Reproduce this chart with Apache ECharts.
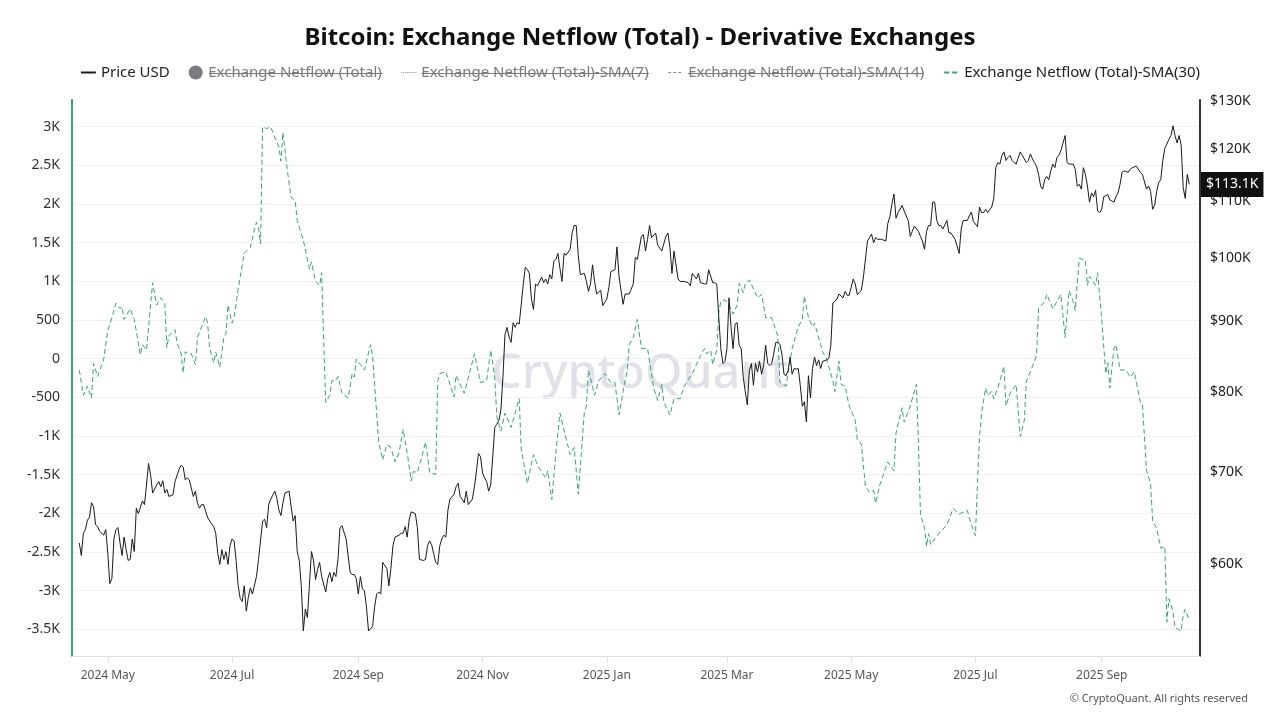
<!DOCTYPE html>
<html>
<head>
<meta charset="utf-8">
<script src="https://cdn.jsdelivr.net/npm/echarts@6/dist/echarts.min.js"></script>
<style>
html,body{margin:0;padding:0;background:#fff;}
#chart{width:1280px;height:720px;}
</style>
</head>
<body>
<div id="chart"></div>
<script>
// Day offsets are days since 2024-05-01 (UTC).
const START_DATE = '2024-05-01';
const monthTicks = ['2024-05-01','2024-07-01','2024-09-01','2024-11-01','2025-01-01','2025-03-01','2025-05-01','2025-07-01','2025-09-01'];
const flowTicks = [-3500,-3000,-2500,-2000,-1500,-1000,-500,0,500,1000,1500,2000,2500,3000];
const priceTicks = [60000,70000,80000,90000,100000,110000,120000,130000];
const seriesNames = ['Price USD','Exchange Netflow (Total)','Exchange Netflow (Total)-SMA(7)','Exchange Netflow (Total)-SMA(14)','Exchange Netflow (Total)-SMA(30)'];
const hiddenSeries = ['Exchange Netflow (Total)','Exchange Netflow (Total)-SMA(7)','Exchange Netflow (Total)-SMA(14)'];

// Price USD, [day offset, price in thousands USD]
const priceK = [
[-14,62.2],[-13,60.9],[-12,63.2],[-11,63.6],[-10,64.6],[-9,64.9],[-8,66.5],[-7,66.1],[-6,64.1],[-5,63.9],[-4,63.4],[-2,63.0],[-1,63.6],
[0,61.1],[1,58.1],[2,58.6],[3,62.6],[4,63.6],[5,63.8],[6,62.2],[7,60.9],[8,62.8],[9,61.5],[10,60.4],[11,60.5],[12,62.6],[13,61.3],
[14,65.9],[15,65.3],[17,66.7],[18,66.3],[19,68.5],[20,71.0],[21,69.7],[22,67.6],[24,68.5],[25,68.9],[26,68.3],[27,69.0],[28,67.6],
[29,68.0],[30,67.2],[32,67.4],[33,68.9],[35,70.3],[36,70.8],[37,70.6],[38,69.1],[39,69.3],[40,69.1],[42,67.2],[43,67.8],[44,66.5],
[45,65.9],[46,66.3],[47,66.3],[49,64.9],[50,64.5],[52,63.9],[53,63.2],[54,61.1],[55,60.0],[56,61.5],[57,60.5],[58,61.3],[59,60.0],
[60,61.9],[61,62.6],[62,62.4],[63,60.4],[64,57.9],[65,56.7],[66,56.4],[67,57.9],[68,55.5],[69,56.8],[70,57.7],[71,57.1],[73,58.8],
[74,60.5],[76,64.5],[77,64.7],[78,63.8],[79,66.3],[80,66.9],[82,67.8],[83,67.0],[84,65.7],[85,65.1],[86,66.5],[87,67.6],[89,67.8],
[90,66.1],[91,64.5],[92,65.1],[93,61.3],[94,60.4],[95,57.9],[96,53.7],[97,55.7],[98,54.9],[100,61.3],[101,60.4],[102,58.5],[103,59.5],
[104,60.2],[105,58.8],[107,57.3],[108,58.6],[109,59.2],[110,58.3],[111,59.2],[112,58.8],[113,60.5],[114,63.8],[115,64.0],[117,62.6],
[119,59.2],[120,59.0],[121,59.0],[122,58.6],[123,57.1],[124,58.8],[125,57.6],[126,57.4],[127,55.9],[128,53.7],[130,54.1],[131,55.9],
[132,57.1],[133,57.3],[134,57.1],[135,60.2],[137,59.6],[138,57.9],[139,59.6],[140,61.9],[141,62.8],[143,63.0],[144,63.2],[145,63.2],
[146,63.9],[147,62.8],[148,64.7],[149,65.5],[151,65.3],[152,63.8],[153,60.5],[155,60.4],[156,60.5],[157,61.9],[158,62.4],[159,62.0],
[160,61.1],[161,60.2],[162,60.0],[163,61.9],[164,62.6],[165,63.0],[166,62.8],[167,65.7],[168,66.9],[169,67.2],[170,67.4],[171,68.3],
[172,68.7],[173,67.2],[174,66.9],[175,66.5],[176,67.8],[177,66.3],[179,66.9],[180,68.3],[181,70.1],[182,72.2],[183,71.8],[184,69.9],
[185,69.3],[186,68.9],[187,67.8],[188,68.5],[189,71.8],[190,75.4],[191,75.8],[192,76.3],[193,77.6],[194,82.0],[195,88.0],[196,89.1],
[197,87.7],[198,86.9],[199,89.8],[200,89.1],[201,89.8],[202,89.6],[203,92.6],[204,95.8],[205,98.5],[206,98.1],[207,97.5],[208,93.4],
[209,91.8],[210,95.8],[211,95.5],[213,96.9],[214,96.0],[215,96.6],[216,95.8],[217,97.3],[218,96.6],[219,99.5],[220,99.8],[221,100.8],
[222,98.3],[223,96.2],[224,100.8],[225,100.5],[227,101.5],[228,104.3],[229,105.6],[230,105.6],[231,100.5],[232,97.3],[234,97.5],
[235,96.2],[236,94.6],[237,95.8],[238,98.9],[239,96.2],[240,94.2],[242,94.8],[243,92.4],[245,93.4],[246,95.2],[247,97.8],[249,98.1],
[250,101.9],[251,97.0],[253,92.6],[254,94.2],[256,94.2],[258,95.8],[259,100.1],[260,99.8],[262,103.7],[263,104.0],[264,101.2],
[265,103.2],[266,105.6],[267,103.5],[269,104.3],[270,102.2],[272,101.2],[274,103.7],[275,104.3],[276,101.8],[277,97.5],[278,101.2],
[280,96.6],[281,96.2],[283,96.2],[285,96.0],[286,95.5],[287,97.5],[289,96.6],[290,97.5],[291,96.0],[293,95.8],[294,95.8],[295,98.1],
[297,96.0],[298,96.0],[299,95.8],[300,90.5],[301,86.0],[302,83.9],[303,84.2],[304,86.0],[305,93.6],[306,89.1],[307,86.0],[308,89.6],
[309,89.8],[310,86.5],[311,86.0],[312,82.0],[313,80.0],[314,78.3],[315,82.9],[316,83.9],[317,80.9],[318,83.9],[319,82.7],[320,84.2],
[321,82.4],[322,83.6],[323,86.5],[324,83.9],[325,83.6],[326,83.9],[328,86.9],[329,86.9],[330,86.6],[331,85.2],[332,82.4],[333,82.2],
[334,82.9],[335,84.8],[336,82.4],[337,83.2],[338,83.1],[339,83.2],[340,80.9],[341,78.1],[342,78.7],[343,76.1],[344,82.2],[345,79.2],
[346,83.2],[347,84.8],[348,83.6],[349,84.4],[350,83.2],[351,84.2],[353,84.4],[354,84.6],[355,86.5],[356,92.8],[358,93.4],[359,94.2],
[361,93.6],[362,94.6],[363,94.0],[364,94.0],[366,96.6],[367,95.8],[368,94.1],[370,94.8],[371,96.9],[373,102.9],[375,104.1],[376,102.6],
[377,103.5],[378,103.2],[380,103.2],[382,102.9],[383,106.0],[384,107.2],[385,109.5],[386,111.3],[387,106.9],[388,107.9],[390,109.2],
[391,108.2],[393,106.5],[394,103.7],[395,104.6],[396,105.5],[398,104.6],[399,103.7],[400,102.9],[401,101.5],[402,104.6],[403,105.6],
[404,105.6],[405,109.8],[406,109.8],[407,106.5],[408,105.6],[409,105.6],[410,105.0],[412,106.5],[413,104.3],[414,104.3],[416,103.2],
[418,100.8],[419,105.0],[420,106.5],[422,106.5],[423,107.3],[424,108.0],[425,106.3],[427,105.4],[428,108.9],[429,107.9],[430,107.9],
[431,108.5],[432,107.9],[434,108.9],[435,110.5],[436,116.3],[437,117.3],[438,117.0],[439,118.7],[440,119.4],[441,117.7],[442,118.3],
[443,118.7],[444,117.7],[445,117.3],[446,117.0],[448,119.4],[449,118.7],[450,118.0],[451,117.3],[452,117.7],[453,119.0],[454,118.0],
[455,117.3],[456,116.6],[457,115.0],[458,112.8],[459,112.2],[460,114.0],[461,114.6],[462,114.0],[463,115.7],[464,117.0],[465,116.3],
[466,118.3],[467,118.7],[468,119.7],[470,122.7],[471,117.3],[472,117.0],[474,117.0],[475,116.0],[476,112.8],[477,113.1],[478,112.2],
[479,116.3],[480,115.0],[481,112.8],[482,109.8],[483,111.5],[484,110.8],[485,112.0],[486,108.2],[487,107.9],[488,108.5],[489,110.8],
[491,111.2],[492,110.2],[494,109.8],[495,110.8],[496,111.5],[497,113.1],[498,115.4],[499,115.7],[501,115.4],[502,116.0],[503,116.3],
[505,116.6],[506,116.0],[507,115.4],[508,115.0],[510,112.2],[511,112.8],[512,111.8],[513,108.5],[514,109.2],[515,111.8],[516,113.5],
[517,114.0],[518,117.7],[519,120.1],[521,121.9],[522,122.7],[523,124.7],[524,122.7],[525,121.2],[526,122.7],[527,120.8],[528,112.5],
[529,110.5],[530,115.0],[531,113.1]
];

// Exchange Netflow (Total)-SMA(30), [day offset, BTC]
const netflowSMA30 = [
[-14,-146],[-12,-472],[-10,-355],[-8,-509],[-7,-62],[-5,-230],[-2,-6],[0,367],[2,530],[4,716],[6,646],[7,669],[8,507],[11,646],[13,507],
[16,50],[17,181],[19,111],[22,981],[24,693],[26,786],[28,716],[29,143],[30,297],[33,376],[34,204],[36,63],[37,-184],[38,87],[41,63],
[43,-76],[44,274],[48,544],[49,460],[50,133],[52,-53],[53,87],[55,-109],[57,274],[58,320],[59,693],[61,460],[62,530],[64,902],[67,1367],
[70,1437],[72,1671],[73,1764],[74,1694],[75,1485],[76,2998],[78,2975],[80,2998],[82,2859],[84,2741],[85,2555],[86,2928],[88,2462],
[90,2090],[92,2043],[93,1787],[96,1531],[99,1158],[100,1251],[102,995],[104,949],[105,1111],[106,227],[107,-565],[109,-472],[110,-286],
[112,-286],[113,-230],[115,-448],[118,-509],[120,-193],[121,-239],[122,-6],[126,-146],[129,181],[130,40],[132,-704],[133,-1078],
[134,-1194],[135,-1310],[137,-1114],[139,-1148],[141,-1334],[143,-1217],[145,-914],[147,-1217],[149,-1580],[150,-1459],[152,-1473],
[154,-1287],[156,-1078],[157,-1264],[158,-1473],[161,-1497],[162,-286],[163,-193],[166,-169],[170,-495],[171,-216],[175,-448],[178,-146],
[180,63],[183,-309],[186,-286],[188,111],[190,-239],[191,-751],[193,-937],[195,-704],[198,-890],[202,-518],[203,-1171],[206,-1613],
[209,-1241],[211,-1380],[215,-1543],[216,-1450],[218,-1822],[220,-1217],[222,-704],[225,-1030],[227,-1241],[229,-1148],[231,-1752],
[234,-681],[235,-611],[236,-146],[239,-472],[241,-286],[244,-193],[247,-309],[249,-309],[251,-728],[253,-425],[255,-146],[256,181],
[258,274],[260,507],[262,133],[265,133],[268,-379],[270,-541],[272,-332],[273,-565],[276,-728],[278,-518],[281,-518],[283,-355],
[287,-193],[291,40],[293,133],[294,63],[296,111],[297,-76],[299,111],[300,600],[301,739],[303,762],[305,693],[307,576],[309,693],
[310,972],[312,855],[313,972],[315,1018],[319,786],[321,832],[323,530],[326,530],[328,367],[329,297],[330,-309],[333,-355],[336,133],
[339,414],[341,507],[342,809],[344,530],[346,414],[347,460],[351,87],[353,-6],[356,-286],[357,-425],[359,-30],[360,-332],[362,-355],
[364,-611],[367,-797],[368,-1053],[370,-1100],[372,-1659],[374,-1729],[376,-1706],[377,-1869],[379,-1636],[382,-1403],[383,-1334],
[386,-1450],[387,-960],[390,-635],[391,-821],[394,-611],[397,-332],[398,-1078],[399,-2008],[401,-2194],[402,-2428],[403,-2264],
[404,-2404],[408,-2264],[412,-2148],[415,-1938],[418,-2008],[422,-1962],[424,-2148],[426,-2287],[427,-1600],[428,-1030],[429,-704],
[431,-379],[432,-472],[434,-425],[435,-518],[437,-379],[440,-100],[441,-611],[443,-448],[446,-332],[448,-1007],[450,-797],[451,-286],
[453,-169],[456,40],[457,646],[460,739],[461,832],[464,646],[466,739],[468,832],[470,274],[472,879],[474,739],[475,623],[476,972],
[477,1297],[480,1274],[481,949],[482,1065],[485,949],[486,1111],[488,507],[490,-193],[491,-53],[492,-379],[494,133],[495,181],
[497,-146],[500,-146],[502,-239],[504,-169],[507,-565],[508,-588],[510,-1450],[512,-1613],[513,-2101],[515,-2194],[517,-2451],
[519,-2428],[520,-3405],[521,-3103],[523,-3266],[524,-3475],[527,-3522],[528,-3312],[529,-3242],[531,-3382]
];

const DAY = 86400000;
const T0 = Date.parse(START_DATE + 'T00:00:00Z');
const toTime = d => T0 + d * DAY;
const MONTHS = ['Jan','Feb','Mar','Apr','May','Jun','Jul','Aug','Sep','Oct','Nov','Dec'];
const monthTickTimes = monthTicks.map(s => Date.parse(s + 'T00:00:00Z'));

const priceSeries = priceK.map(p => [toTime(p[0]), p[1] * 1000]);
const flowSeries = netflowSMA30.map(p => [toTime(p[0]), p[1]]);
const lastPrice = priceSeries[priceSeries.length - 1][1];

const GREEN = '#32a877';
const FONT = 'Noto Sans';
const INACTIVE = '#7a7a80';

// Legend layout (for strike-through on the hidden items)
const LEG_FS = 15, LEG_IW = 15, LEG_IH = 14, LEG_GAP = 19, LEG_TOP = 60, W = 1280;
const mctx = document.createElement('canvas').getContext('2d');
mctx.font = LEG_FS + 'px "' + FONT + '"';
const legW = seriesNames.map(n => mctx.measureText(n).width);
const legTotal = legW.reduce((a, w) => a + LEG_IW + 5 + w, 0) + LEG_GAP * (seriesNames.length - 1);
const strikeLines = [];
{
  let x = (W - legTotal) / 2;
  const yMid = LEG_TOP + 5 + LEG_IH / 2;
  seriesNames.forEach((n, i) => {
    const tx = x + LEG_IW + 5;
    if (hiddenSeries.indexOf(n) >= 0) {
      strikeLines.push({
        type: 'line', silent: true, z: 100,
        shape: {x1: tx, y1: Math.round(yMid) + 1.5, x2: tx + legW[i], y2: Math.round(yMid) + 1.5},
        style: {stroke: INACTIVE, lineWidth: 1}
      });
    }
    x = tx + legW[i] + LEG_GAP;
  });
}

const chart = echarts.init(document.getElementById('chart'), null, {renderer: 'canvas'});
const selected = {};
hiddenSeries.forEach(n => { selected[n] = false; });
chart.setOption({
  backgroundColor: '#ffffff',
  animation: false,
  textStyle: {fontFamily: FONT},
  title: {
    text: 'Bitcoin: Exchange Netflow (Total) - Derivative Exchanges',
    left: 'center', top: 21,
    textStyle: {fontFamily: FONT, fontSize: 24, fontWeight: 'bold', color: '#111'}
  },
  legend: {
    top: LEG_TOP, left: 'center', itemGap: LEG_GAP, itemWidth: LEG_IW, itemHeight: LEG_IH,
    inactiveColor: INACTIVE, inactiveBorderColor: INACTIVE,
    lineStyle: {inactiveColor: '#8a8a90', inactiveWidth: 1},
    textStyle: {fontFamily: FONT, fontSize: LEG_FS, color: '#222'},
    data: [
      {name: seriesNames[0], itemStyle: {opacity: 0}},
      {name: seriesNames[1], icon: 'circle'},
      {name: seriesNames[2], itemStyle: {opacity: 0}, lineStyle: {type: [1, 1], inactiveColor: '#8a8a90', inactiveWidth: 1}},
      {name: seriesNames[3], itemStyle: {opacity: 0}, lineStyle: {type: [3, 2], inactiveColor: '#8a8a90', inactiveWidth: 1}},
      {name: seriesNames[4], itemStyle: {opacity: 0}}
    ],
    selected: selected
  },
  grid: {left: 72, right: 80, top: 100, bottom: 64, containLabel: false},
  xAxis: {
    type: 'value',
    min: T0 - 17.58 * DAY,
    max: T0 + 536.26 * DAY,
    axisLine: {show: true, onZero: false, lineStyle: {color: '#dcdce4', width: 1}},
    axisTick: {show: true, customValues: monthTickTimes, length: 7, lineStyle: {color: '#e2e2e8'}},
    splitLine: {show: false},
    axisLabel: {
      customValues: monthTickTimes,
      margin: 14, fontSize: 12, color: '#555', fontFamily: FONT,
      formatter: v => { const d = new Date(v); return d.getUTCFullYear() + ' ' + MONTHS[d.getUTCMonth()]; }
    }
  },
  yAxis: [
    {
      type: 'value', position: 'left',
      min: -3845, max: 3345,
      axisLine: {show: true, lineStyle: {color: GREEN, width: 2}},
      axisTick: {show: false, customValues: flowTicks},
      splitLine: {show: true, lineStyle: {color: '#f2f2f4', width: 1}},
      axisLabel: {
        customValues: flowTicks,
        margin: 12, fontSize: 14, color: '#333', fontFamily: FONT,
        formatter: v => (v === 0 ? '0' : (Math.abs(v) >= 1000 ? (v / 1000) + 'K' : String(v)))
      }
    },
    {
      type: 'log', position: 'right', logBase: 10,
      min: 51500, max: 130200,
      axisLine: {show: true, lineStyle: {color: '#333', width: 2}},
      axisTick: {show: false, customValues: priceTicks},
      splitLine: {show: false},
      axisLabel: {
        customValues: priceTicks,
        margin: 10, fontSize: 14, color: '#222', fontFamily: FONT,
        formatter: v => '$' + Math.round(v / 1000) + 'K'
      }
    }
  ],
  graphic: [
    {
      type: 'text', left: 'center', top: 350, z: -10, silent: true,
      style: {text: 'CryptoQuant', fontFamily: FONT, fontSize: 48, fontWeight: 500, fill: 'rgba(200,200,214,0.55)'}
    },
    {
      type: 'text', right: 32, bottom: 16, silent: true,
      style: {text: '\u00A9 CryptoQuant. All rights reserved', fontFamily: FONT, fontSize: 11, fill: '#555'}
    }
  ].concat(strikeLines),
  series: [
    {
      name: seriesNames[0], type: 'line', yAxisIndex: 1, data: priceSeries,
      symbol: 'none', showSymbol: false, z: 4,
      lineStyle: {color: '#1a1a1a', width: 1},
      itemStyle: {color: '#1a1a1a'},
      markLine: {
        silent: true, symbol: 'none', animation: false,
        lineStyle: {color: 'rgba(0,0,0,0)', width: 1},
        label: {
          show: true, position: 'end', distance: 1,
          formatter: () => '$' + (lastPrice / 1000).toFixed(1) + 'K',
          backgroundColor: '#111', color: '#fff', padding: [6, 5, 5, 5],
          fontSize: 14, fontFamily: FONT
        },
        data: [{yAxis: lastPrice}]
      }
    },
    {
      name: seriesNames[1], type: 'bar', yAxisIndex: 0, data: [],
      itemStyle: {color: '#6b6b80'}
    },
    {
      name: seriesNames[2], type: 'line', yAxisIndex: 0, data: [],
      symbol: 'none', lineStyle: {color: '#888', width: 1, type: [1, 1]}, itemStyle: {color: '#888'}
    },
    {
      name: seriesNames[3], type: 'line', yAxisIndex: 0, data: [],
      symbol: 'none', lineStyle: {color: '#888', width: 1, type: [3, 2]}, itemStyle: {color: '#888'}
    },
    {
      name: seriesNames[4], type: 'line', yAxisIndex: 0, data: flowSeries,
      symbol: 'none', showSymbol: false, z: 3,
      lineStyle: {color: GREEN, width: 1, type: [5, 3]},
      itemStyle: {color: GREEN}
    }
  ]
});
</script>
</body>
</html>
